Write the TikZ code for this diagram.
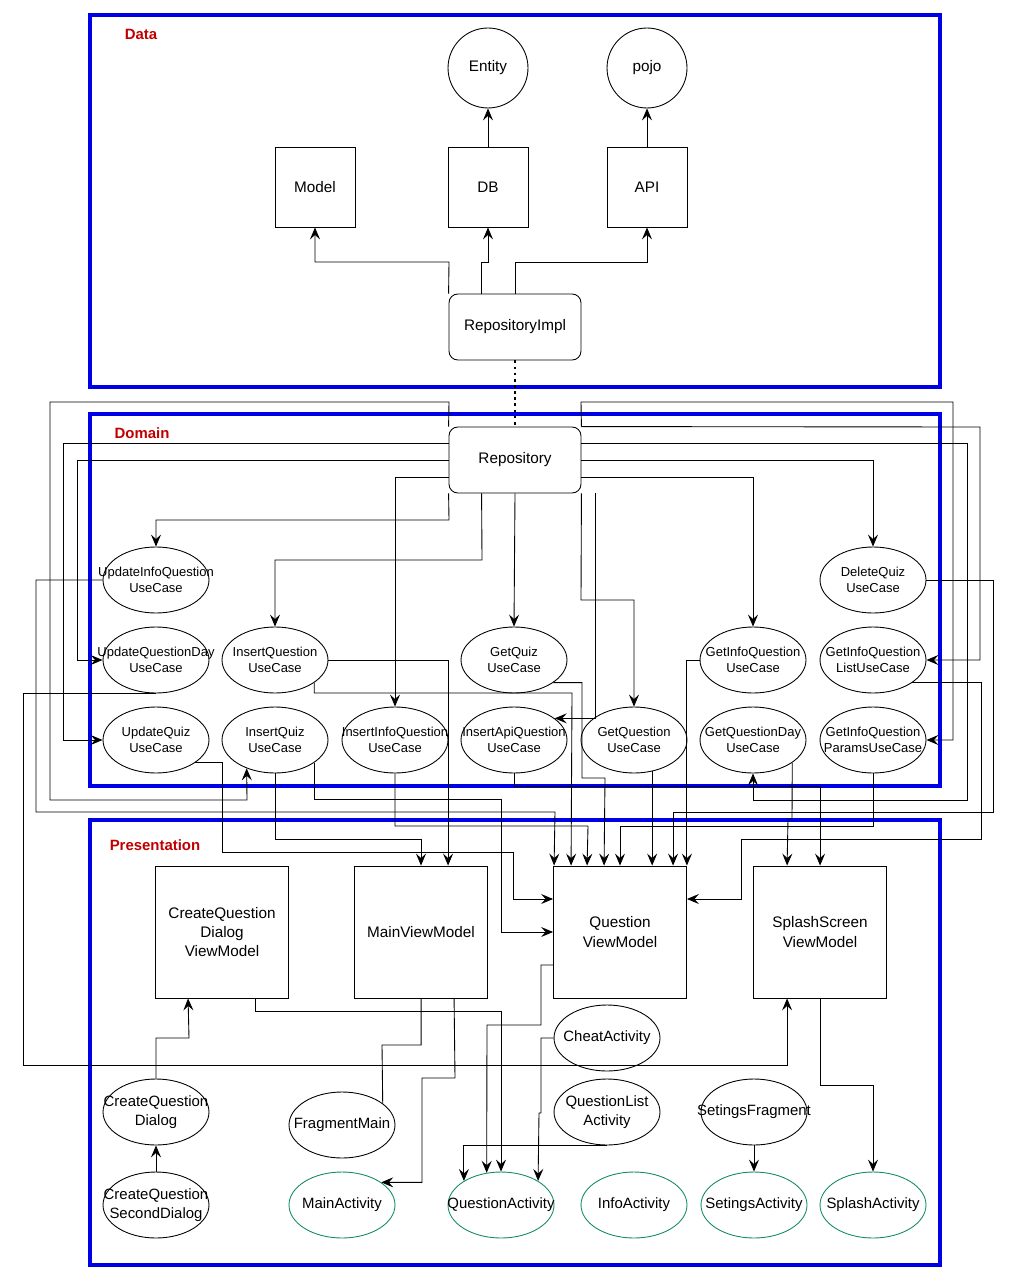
\documentclass[tikz,border=0pt]{standalone}
\usepackage{fontspec}
\setmainfont{Liberation Sans}
\usetikzlibrary{positioning,calc,shapes.geometric,arrows.meta}
\definecolor{layerblue}{RGB}{0,0,230}
\definecolor{layerred}{RGB}{192,0,0}
\definecolor{actgreen}{RGB}{20,140,95}
\tikzset{layer/.style={
  draw=layerblue, line width=2.3pt
}}
\tikzset{layertitle/.style={
  text=layerred, font=\fontsize{8.5}{10}\selectfont\bfseries
}}
\tikzset{box/.style={
  draw, line width=0.5pt,
  minimum width=1.6cm, minimum height=1.6cm,
  font=\fontsize{8.7}{10.5}\selectfont
}}
\tikzset{vm/.style={
  draw, line width=0.5pt, align=center,
  minimum width=2.66cm, minimum height=2.64cm,
  font=\fontsize{8.7}{11}\selectfont
}}
\tikzset{repo/.style={
  draw, line width=0.5pt, rounded corners=5pt,
  minimum width=2.64cm, minimum height=1.32cm,
  font=\fontsize{8.7}{10.5}\selectfont
}}
\tikzset{store/.style={
  circle, draw, line width=0.5pt,
  minimum size=1.6cm, inner sep=0pt,
  font=\fontsize{8.7}{10.5}\selectfont
}}
\tikzset{usecase/.style={
  ellipse, draw, line width=0.5pt,
  minimum width=2.12cm, minimum height=1.32cm, inner sep=0pt,
  label={[align=center,font=\fontsize{7.4}{8.8}\selectfont]center:#1}
}}
\tikzset{view/.style={
  ellipse, draw, line width=0.5pt,
  minimum width=2.12cm, minimum height=1.32cm, inner sep=0pt,
  label={[align=center,font=\fontsize{8.5}{10.8}\selectfont]center:#1}
}}
\tikzset{activity/.style={
  view={#1}, draw=actgreen
}}
\tikzset{arr/.style={
  line width=0.5pt, -{Stealth[length=2.4mm,width=2mm,inset=0.9mm]}
}}
\tikzset{wire/.style={line width=0.5pt}}

\begin{document}
\begin{tikzpicture}[x=0.02cm, y=-0.02cm]
  \useasboundingbox (0,0) rectangle (1018,1280);
  % layers
  \draw[layer] (90,15) rectangle (940,387);
  \draw[layer] (90,414) rectangle (940,786);
  \draw[layer] (90,820) rectangle (940,1265);
  \node[layertitle] (datatitle) at (141,34) {Data};
  \node[layertitle] (domaintitle) at (142,433) {Domain};
  \node[layertitle] (prestitle) at (155,845) {Presentation};

  % data
  \node[store] (entity) at (488,68) {Entity};
  \node[store] (pojo) at (647,68) {pojo};
  \node[box] (model) at (315,187) {Model};
  \node[box] (db) at (488,187) {DB};
  \node[box] (api) at (647,187) {API};
  \node[repo] (impl) at (515,327) {RepositoryImpl};

  % domain
  \node[repo] (repo) at (515,460) {Repository};
  \node[usecase={UpdateInfoQuestion\\UseCase}] (updinfo) at (156,580) {};
  \node[usecase={DeleteQuiz\\UseCase}] (delquiz) at (873,580) {};
  \node[usecase={UpdateQuestionDay\\UseCase}] (updqday) at (156,660) {};
  \node[usecase={InsertQuestion\\UseCase}] (insq) at (275,660) {};
  \node[usecase={GetQuiz\\UseCase}] (getquiz) at (514,660) {};
  \node[usecase={GetInfoQuestion\\UseCase}] (getinfo) at (753,660) {};
  \node[usecase={GetInfoQuestion\\ListUseCase}] (getinfolist) at (873,660) {};
  \node[usecase={UpdateQuiz\\UseCase}] (updquiz) at (156,740) {};
  \node[usecase={InsertQuiz\\UseCase}] (insquiz) at (275,740) {};
  \node[usecase={InsertInfoQuestion\\UseCase}] (insinfo) at (395,740) {};
  \node[usecase={InsertApiQuestion\\UseCase}] (insapi) at (514,740) {};
  \node[usecase={GetQuestion\\UseCase}] (getq) at (634,740) {};
  \node[usecase={GetQuestionDay\\UseCase}] (getqday) at (753,740) {};
  \node[usecase={GetInfoQuestion\\ParamsUseCase}] (getinfoparams) at (873,740) {};

  % presentation
  \node[vm] (cqvm) at (222,932) {CreateQuestion\\Dialog\\ViewModel};
  \node[vm] (mainvm) at (421,932) {MainViewModel};
  \node[vm] (qvm) at (620,932) {Question\\ViewModel};
  \node[vm] (splashvm) at (820,932) {SplashScreen\\ViewModel};
  \node[view={CreateQuestion\\Dialog}] (cqdialog) at (156,1112) {};
  \node[view={CreateQuestion\\SecondDialog}] (cqsecond) at (156,1205) {};
  \node[view={FragmentMain}] (fragmain) at (342,1125) {};
  \node[view={CheatActivity}] (cheat) at (607,1038) {};
  \node[view={QuestionList\\Activity}] (qlist) at (607,1112) {};
  \node[view={SetingsFragment}] (setfrag) at (754,1112) {};
  \node[activity={MainActivity}] (mainact) at (342,1205) {};
  \node[activity={QuestionActivity}] (qact) at (501,1205) {};
  \node[activity={InfoActivity}] (infoact) at (634,1205) {};
  \node[activity={SetingsActivity}] (setact) at (754,1205) {};
  \node[activity={SplashActivity}] (splashact) at (873,1205) {};

  % data connectors
  \draw[arr] (impl.north west) -- (449,262) -| (model.south);
  \draw[arr] ($(impl.north west)+(33,0)$) |- (488,262) -- (db.south);
  \draw[arr] (impl.north) |- (647,262) -- (api.south);
  \draw[arr] (db.north) -- (entity.south);
  \draw[arr] (api.north) -- (pojo.south);
  \draw[line width=1.5pt, dotted] (impl.south) -- (repo.north);

  % repository to use cases
  \draw[arr] (repo.north west) -- (449,402) -- (50,402) |- (247,800) -- (insquiz.-135);
  \draw[arr] ($(repo.north west)+(0,17)$) -| (63,740) -- (updquiz.west);
  \draw[arr] (repo.west) -| (77,660) -- (updqday.west);
  \draw[arr] ($(repo.south west)+(0,-16)$) -| (insinfo.north);
  \draw[arr] (repo.south west) -- (449,520) -| (updinfo.north);
  \draw[arr] ($(repo.south west)+(33,0)$) -- (482,560) -| (insq.north);
  \draw[arr] (repo.south) -- (getquiz.north);
  \draw[arr] (repo.south east) -- (581,600) -| (getq.north);
  \draw[arr] ($(repo.south east)+(14,0)$) |- (insapi.28);
  \draw[arr] (repo.north east) -- (581,402) -| (953,740) -- (getinfoparams.east);
  \draw[arr] (repo.north east) -- (980,427) |- (getinfolist.east);
  \draw[arr] ($(repo.north east)+(0,17)$) -| (967,800) -| (getqday.south);
  \draw[arr] (repo.east) -| (delquiz.north);
  \draw[arr] ($(repo.south east)+(0,-16)$) -| (getinfo.north);

  % use cases to view models
  \draw[arr] (updinfo.west) -- (36,580) |- (555,812) -- ($(qvm.north west)+(1,0)$);
  \draw[arr] (insq.-30) |- (572,693) -- ($(qvm.north west)+(18,0)$);
  \draw[arr] (insq.east) -| ($(mainvm.north west)+(94,0)$);
  \draw[arr] (insquiz.south) -- (275,839) -| (mainvm.north);
  \draw[arr] (insquiz.-30) |- (501,799) |- (qvm.west);
  \draw[arr] (updquiz.-30) -| (222,852) -- (513,852) |- ($(qvm.west)+(0,-33)$);
  \draw[arr] (insinfo.south) |- (588,826) -- ($(qvm.north west)+(34,0)$);
  \draw[arr] (getquiz.-30) -| (582,778) -- (605,778) -- ($(qvm.north west)+(51,0)$);
  \draw[arr] (getinfoparams.south) |- (620,826) -- (qvm.north);
  \draw[arr] (getq.-60) -- (getq.-60 |- qvm.north);
  \draw[arr] (delquiz.east) -| (993,812) -| ($(qvm.north west)+(120,0)$);
  \draw[arr] (getinfo.west) -| (qvm.north east);
  \draw[arr] (getinfolist.-30) -| (981,839) -- (741,839) |- ($(qvm.east)+(0,-33)$);
  \draw[arr] (getqday.-30) -- (792,819) -- (788,819) -- ($(splashvm.north west)+(34,0)$);
  \draw[arr] (insapi.south) -- (514,786) -| ($(splashvm.north west)+(67,0)$);
  \draw[arr] (updqday.south) -| (23,1065) -| ($(splashvm.south west)+(34,0)$);

  % view models to views
  \draw[arr] ($(cqvm.south west)+(100,0)$) |- (501,1011) -- (qact.north);
  \draw[wire] ($(mainvm.south west)+(67,0)$) |- (382,1045) -- (fragmain.28);
  \draw[arr] ($(mainvm.south west)+(100,0)$) -- (455,1078) -- (422,1078) |- (mainact.30);
  \draw[arr] ($(qvm.west)+(0,33)$) -| (541,1025) -- (487,1025) -- (qact.114);
  \draw[arr] (cheat.west) -- (541,1038) -- (541,1113) -- (539,1113) -- (qact.33);
  \draw[arr] (qlist.south) -| (qact.147);
  \draw[arr] (cqdialog.north) |- (189,1038) -- ($(cqvm.south west)+(33,0)$);
  \draw[arr] (cqsecond.north) -- (cqdialog.south);
  \draw[arr] (setfrag.south) -- (setact.north);
  \draw[arr] (splashvm.south) |- (873,1085) -- (splashact.north);
\end{tikzpicture}
\end{document}
